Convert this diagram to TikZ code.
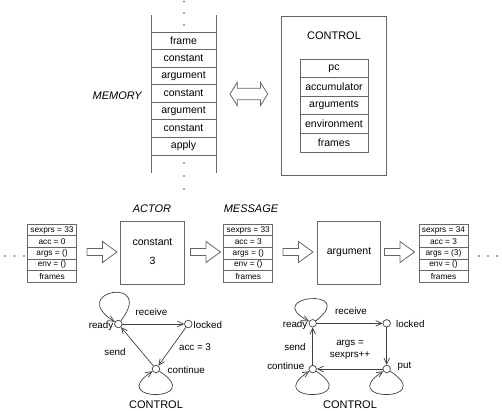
\documentclass[tikz,border=0pt]{standalone}
\usepackage{fontspec}
\setmainfont{Liberation Sans}
\usetikzlibrary{arrows.meta}
\begin{document}
\begin{tikzpicture}[x=1pt,y=-1pt,
 boxline/.style={draw=black!60, line width=0.8pt},
 mcell/.style={boxline, minimum width=65pt, minimum height=17.57pt, inner sep=0pt, outer sep=0pt, font=\fontsize{10.5}{12}\selectfont},
 ccell/.style={boxline, minimum width=68pt, minimum height=18.6pt, inner sep=0pt, outer sep=0pt, font=\fontsize{10.5}{12}\selectfont},
 tcell/.style={boxline, minimum width=49pt, minimum height=11.55pt, inner sep=0pt, outer sep=0pt, font=\fontsize{8.3}{9}\selectfont},
 bigbox/.style={boxline, minimum width=63.6pt, minimum height=63.3pt, inner sep=0pt, font=\fontsize{10.5}{12}\selectfont},
 dotn/.style={circle, fill=black!70, inner sep=0pt, minimum size=1.6pt},
 hollow/.style={boxline, line join=miter},
 state/.style={circle, draw=black!75, line width=0.7pt, minimum size=7.5pt, inner sep=0pt},
 tr/.style={draw=black!75, line width=0.7pt, -{Straight Barb[length=6pt,width=5.5pt]}},
 slab/.style={font=\fontsize{9.8}{11}\selectfont, inner sep=0pt},
 title/.style={font=\fontsize{11}{13}\selectfont\itshape, inner sep=0pt},
 ctitle/.style={font=\fontsize{11}{13}\selectfont, inner sep=0pt}
]
\useasboundingbox (0,0) rectangle (502,410);

% ---------- MEMORY stack ----------
\coordinate (mlt) at (151,15);
\coordinate (mlb) at (151,173);
\coordinate (mrt) at (216,15);
\coordinate (mrb) at (216,173);
\draw[boxline] (mlt) -- (mlb);
\draw[boxline] (mrt) -- (mrb);
\node[mcell, anchor=north] (m1) at (183.5,32) {frame};
\node[mcell, anchor=north] (m2) at (m1.south) {constant};
\node[mcell, anchor=north] (m3) at (m2.south) {argument};
\node[mcell, anchor=north] (m4) at (m3.south) {constant};
\node[mcell, anchor=north] (m5) at (m4.south) {argument};
\node[mcell, anchor=north] (m6) at (m5.south) {constant};
\node[mcell, anchor=north] (m7) at (m6.south) {apply};
\node[dotn] (mt1) at (184,1.5) {};
\node[dotn] (mt2) at (184,13) {};
\node[dotn] (mt3) at (184,25) {};
\node[dotn] (mb1) at (184,163) {};
\node[dotn] (mb2) at (184,176) {};
\node[dotn] (mb3) at (184,189) {};
\node[title, anchor=east] (memlab) at (142,96) {MEMORY};

% double arrow
\coordinate (dbl) at (230,94);
\draw[hollow] (dbl) -- ++(7.3,-11.7) -- ++(0,6) -- ++(23.1,0) -- ++(0,-6)
  -- ++(7.3,11.7) -- ++(-7.3,11.7) -- ++(0,-6) -- ++(-23.1,0) -- ++(0,6) -- cycle;

% ---------- CONTROL box ----------
\node[boxline, minimum width=105.7pt, minimum height=159.7pt, inner sep=0pt] (cbox) at (333.85,95.85) {};
\node[ctitle] (ctl) at (334,36) {CONTROL};
\node[ccell, anchor=north] (c1) at (334,59) {pc};
\node[ccell, anchor=north] (c2) at (c1.south) {accumulator};
\node[ccell, anchor=north] (c3) at (c2.south) {arguments};
\node[ccell, anchor=north] (c4) at (c3.south) {environment};
\node[ccell, anchor=north] (c5) at (c4.south) {frames};

% ---------- middle row ----------
\node[dotn] (ld1) at (5,256) {};
\node[dotn] (ld2) at (14.5,256) {};
\node[dotn] (ld3) at (24,256) {};
\node[dotn] (rd1) at (479,256) {};
\node[dotn] (rd2) at (488,256) {};
\node[dotn] (rd3) at (497,256) {};

\node[tcell, anchor=north] (a1) at (52,224.3) {sexprs = 33};
\node[tcell, anchor=north] (a2) at (a1.south) {acc = 0};
\node[tcell, anchor=north] (a3) at (a2.south) {args = ()};
\node[tcell, anchor=north] (a4) at (a3.south) {env = ()};
\node[tcell, anchor=north] (a5) at (a4.south) {frames};

\coordinate (h1) at (87,252);
\coordinate (h2) at (190.5,252);
\coordinate (h3) at (283,252);
\coordinate (h4) at (384.5,252);
\foreach \h in {h1,h2,h3,h4}{
  \draw[hollow] (\h) ++(0,-3.5) -- ++(15.5,0) -- ++(0,-7) -- ++(14.5,10.5)
    -- ++(-14.5,10.5) -- ++(0,-7) -- ++(-15.5,0) -- cycle;
}

\node[bigbox] (actor) at (152.5,252.7) {};
\node[font=\fontsize{10.5}{12}\selectfont, inner sep=0pt] (actc) at (152.5,242.5) {constant};
\node[font=\fontsize{10.5}{12}\selectfont, inner sep=0pt] (act3) at (152.5,260.5) {3};
\node[title] (actlab) at (152,209) {ACTOR};

\node[tcell, anchor=north] (b1) at (248.3,224.3) {sexprs = 33};
\node[tcell, anchor=north] (b2) at (b1.south) {acc = 3};
\node[tcell, anchor=north] (b3) at (b2.south) {args = ()};
\node[tcell, anchor=north] (b4) at (b3.south) {env = ()};
\node[tcell, anchor=north] (b5) at (b4.south) {frames};
\node[title] (msglab) at (251,209) {MESSAGE};

\node[bigbox] (argbox) at (349,252.6) {argument};

\node[tcell, anchor=north] (d1) at (443.5,224.3) {sexprs = 34};
\node[tcell, anchor=north] (d2) at (d1.south) {acc = 3};
\node[tcell, anchor=north] (d3) at (d2.south) {args = (3)};
\node[tcell, anchor=north] (d4) at (d3.south) {env = ()};
\node[tcell, anchor=north] (d5) at (d4.south) {frames};

% ---------- left state machine ----------
\node[state] (lr) at (118.3,324) {};
\node[state] (ll) at (188.3,324) {};
\node[state] (lc) at (156,369) {};
\node[slab, anchor=east] (lrt) at (113.5,325.5) {ready};
\node[slab, anchor=west] (llt) at (193.5,324.5) {locked};
\node[slab, anchor=west] (lct) at (167.5,370) {continue};
\node[slab] (lrec) at (151.5,311.5) {receive};
\node[slab] (lacc) at (195,347) {acc = 3};
\node[slab] (lsend) at (115,352) {send};
\node[ctitle] (lctl) at (156,405) {CONTROL};
\draw[tr] (lr) -- (ll);
\draw[tr] (ll) -- (lc);
\draw[tr] (lc) -- (lr);
% loops: node anchors are visual angles; polar offsets are flipped (y=-1pt)
\draw[tr] (lr.52) .. controls +(-52:58) and +(-148:58) .. (lr.148);
\draw[tr] (lc.-33) .. controls +(33:57) and +(147:57) .. (lc.-147);

% ---------- right state machine ----------
\node[state] (rr) at (312.7,323.3) {};
\node[state] (rl) at (386.7,323.3) {};
\node[state] (rp) at (386.7,369) {};
\node[state] (rc) at (312.7,369) {};
\node[slab, anchor=east] (rrt) at (307.5,325) {ready};
\node[slab, anchor=west] (rlt) at (396,324) {locked};
\node[slab, anchor=west] (rpt) at (397.5,366) {put};
\node[slab, anchor=east] (rct) at (304.5,365.5) {continue};
\node[slab] (rrec) at (351,311) {receive};
\node[slab] (rsend) at (295,347) {send};
\node[slab] (rargs) at (350,344) {args =};
\node[slab] (rsex) at (350,356) {sexprs++};
\node[ctitle] (rctl) at (350,405) {CONTROL};
\draw[tr] (rr) -- (rl);
\draw[tr] (rl) -- (rp);
\draw[tr] (rp) -- (rc);
\draw[tr] (rc) -- (rr);
\draw[tr] (rr.38) .. controls +(-38:55) and +(-152:55) .. (rr.152);
\draw[tr] (rc.-33) .. controls +(33:57) and +(147:57) .. (rc.-147);
\draw[tr] (rp.-33) .. controls +(33:57) and +(147:57) .. (rp.-147);
\end{tikzpicture}
\end{document}
